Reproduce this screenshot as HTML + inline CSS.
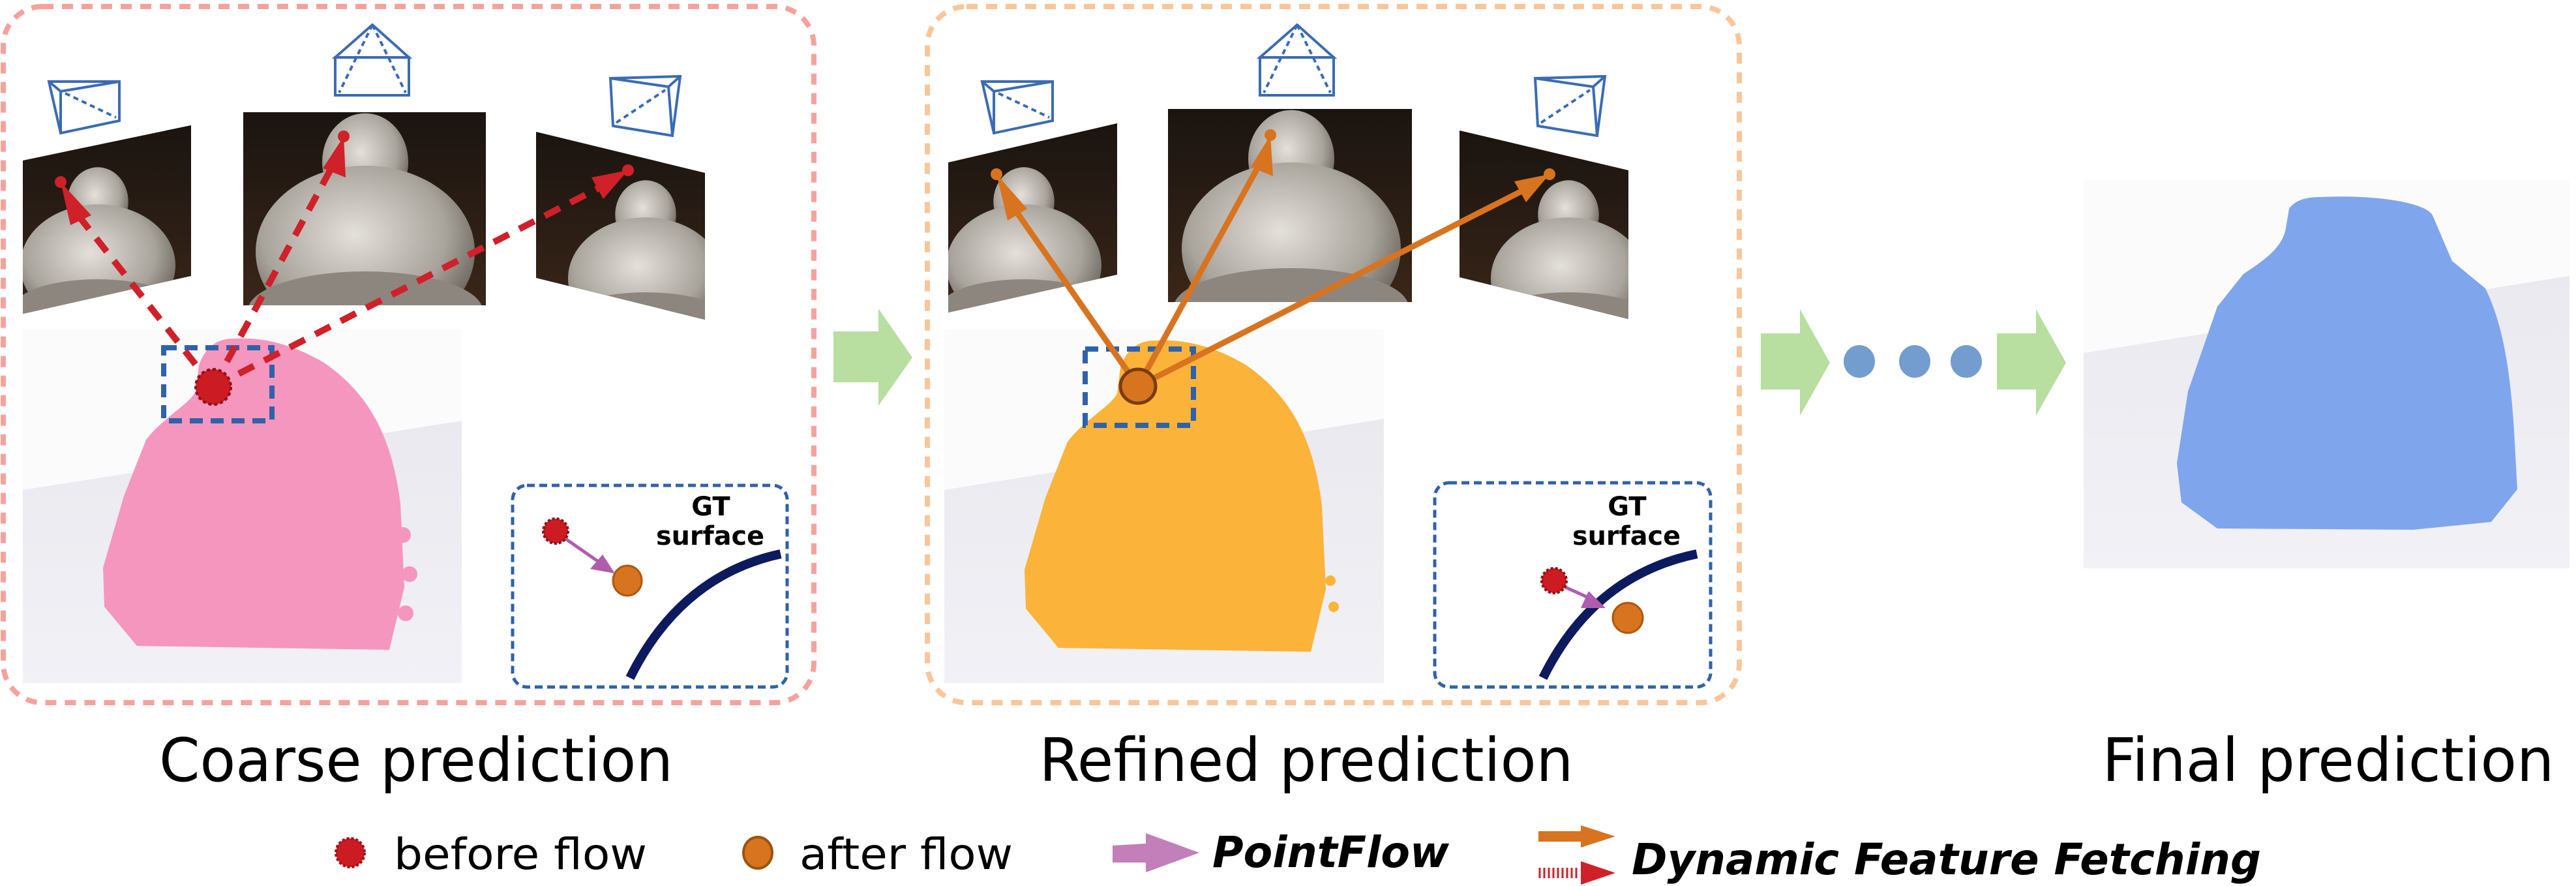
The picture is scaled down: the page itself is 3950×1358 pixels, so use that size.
<!DOCTYPE html>
<html><head><meta charset="utf-8">
<style>
html,body{margin:0;padding:0;background:#fff;}
svg{display:block;}
text{font-family:"DejaVu Sans","Liberation Sans",sans-serif;}
</style></head>
<body>
<svg width="3950" height="1358" viewBox="0 0 3950 1358" xmlns="http://www.w3.org/2000/svg">
<defs>
  <linearGradient id="photo" x1="0" y1="0" x2="0" y2="1">
    <stop offset="0" stop-color="#1a1410"/><stop offset="1" stop-color="#3a2618"/>
  </linearGradient>
  <radialGradient id="stone" cx="0.45" cy="0.4" r="0.6">
    <stop offset="0" stop-color="#e4e0da"/><stop offset="0.7" stop-color="#a8a39b"/><stop offset="1" stop-color="#6d6760"/>
  </radialGradient>
  <linearGradient id="floor" x1="0" y1="0" x2="0" y2="1">
    <stop offset="0" stop-color="#e9e9ef"/><stop offset="1" stop-color="#f1f1f6"/>
  </linearGradient>
  <g id="buddha">
    <ellipse cx="0" cy="-60" rx="55" ry="62" fill="url(#stone)"/>
    <ellipse cx="0" cy="55" rx="140" ry="110" fill="url(#stone)"/>
    <ellipse cx="0" cy="130" rx="150" ry="50" fill="#8c867e"/>
  </g>
  <clipPath id="cL1"><polygon points="35,246 293,192 293,423 35,481"/></clipPath>
  <clipPath id="cR1"><polygon points="822,202 1081,265 1081,490 822,426"/></clipPath>
  <clipPath id="cM1"><rect x="373" y="172" width="372" height="296"/></clipPath>
  <clipPath id="cL2"><polygon points="1454,249 1713,189 1713,421 1454,479"/></clipPath>
  <clipPath id="cR2"><polygon points="2238,200 2497,261 2497,489 2238,425"/></clipPath>
  <clipPath id="cM2"><rect x="1791" y="167" width="374" height="296"/></clipPath>
</defs>

<!-- Panels -->
<rect x="5" y="10" width="1243" height="1067" rx="60" fill="none" stroke="#f6a29c" stroke-width="8" stroke-dasharray="17 13"/>
<rect x="1422" y="10" width="1245" height="1067" rx="60" fill="none" stroke="#fbc59a" stroke-width="8" stroke-dasharray="17 13"/>

<!-- Panel 1 photos -->
<polygon points="35,246 293,192 293,423 35,481" fill="url(#photo)"/>
<g clip-path="url(#cL1)"><use href="#buddha" transform="translate(150,360) scale(0.85)"/></g>
<rect x="373" y="172" width="372" height="296" fill="url(#photo)"/>
<g clip-path="url(#cM1)"><use href="#buddha" transform="translate(560,320) scale(1.2)"/></g>
<polygon points="822,202 1081,265 1081,490 822,426" fill="url(#photo)"/>
<g clip-path="url(#cR1)"><use href="#buddha" transform="translate(990,380) scale(0.85)"/></g>

<!-- Panel 2 photos -->
<polygon points="1454,249 1713,189 1713,421 1454,479" fill="url(#photo)"/>
<g clip-path="url(#cL2)"><use href="#buddha" transform="translate(1570,360) scale(0.85)"/></g>
<rect x="1791" y="167" width="374" height="296" fill="url(#photo)"/>
<g clip-path="url(#cM2)"><use href="#buddha" transform="translate(1980,315) scale(1.2)"/></g>
<polygon points="2238,200 2497,261 2497,489 2238,425" fill="url(#photo)"/>
<g clip-path="url(#cR2)"><use href="#buddha" transform="translate(2405,380) scale(0.85)"/></g>

<!-- Cameras -->
<g fill="none" stroke="#3a6cb4" stroke-width="4">
  <g id="camL">
    <polygon points="75,125 183,125 183,185 93,204"/>
    <polyline points="75,125 93,140 183,125"/>
    <line x1="93" y1="140" x2="93" y2="204"/>
    <line x1="100" y1="143" x2="178" y2="180" stroke-dasharray="8 6"/>
  </g>
  <g id="camM">
    <polygon points="514,88 571,38 627,88"/>
    <rect x="514" y="88" width="113" height="58"/>
    <line x1="571" y1="38" x2="520" y2="142" stroke-dasharray="8 6"/>
    <line x1="571" y1="38" x2="622" y2="142" stroke-dasharray="8 6"/>
  </g>
  <g id="camR">
    <polygon points="936,120 1043,117 1031,208 940,193"/>
    <polyline points="936,120 1025,133 1043,117"/>
    <line x1="1025" y1="133" x2="1031" y2="208"/>
    <line x1="945" y1="188" x2="1020" y2="138" stroke-dasharray="8 6"/>
  </g>
  <use href="#camL" transform="translate(1431,0)"/>
  <use href="#camM" transform="translate(1418,0)"/>
  <use href="#camR" transform="translate(1418,0)"/>
</g>

<!-- Renders bg -->
<rect x="35" y="505" width="673" height="542" fill="#fbfbfc"/>
<polygon points="35,751 708,645 708,1047 35,1047" fill="url(#floor)"/>
<rect x="1448" y="505" width="674" height="542" fill="#fbfbfc"/>
<polygon points="1448,751 2122,642 2122,1047 1448,1047" fill="url(#floor)"/>
<rect x="3195" y="275" width="745" height="596" fill="#fbfbfc"/>
<polygon points="3195,541 3940,423 3940,871 3195,871" fill="url(#floor)"/>

<!-- Blobs -->
<path id="blob" d="M357,519 C420,515 470,540 497,556 C560,600 600,660 614,772 L620,900 L597,996 L210,990 L160,930 L158,870 L190,760 L224,674 C250,640 290,620 300,600 L305,560 C315,530 335,519 357,519 Z" fill="#f596bf"/>
<circle cx="618" cy="820" r="12" fill="#f596bf"/><circle cx="628" cy="880" r="12" fill="#f596bf"/><circle cx="622" cy="940" r="12" fill="#f596bf"/>
<path d="M357,519 C420,515 470,540 497,556 C560,600 600,660 614,772 L620,900 L597,996 L210,990 L160,930 L158,870 L190,760 L224,674 C250,640 290,620 300,600 L305,560 C315,530 335,519 357,519 Z" fill="#fbb33a" transform="translate(1413,3)"/>
<circle cx="2040" cy="890" r="8" fill="#fbb33a"/><circle cx="2045" cy="930" r="8" fill="#fbb33a"/>
<path d="M3560,302 C3640,298 3720,310 3730,330 L3760,400 L3811,442 C3840,500 3850,580 3855,660 L3860,750 L3820,800 L3700,812 L3400,810 L3345,770 L3338,710 L3355,600 L3400,470 L3440,420 C3470,400 3500,380 3505,350 L3510,320 C3520,305 3540,302 3560,302 Z" fill="#7fa6ec"/>

<!-- Blue dashed boxes -->
<rect x="251" y="533" width="166" height="112" fill="none" stroke="#2f62a8" stroke-width="8" stroke-dasharray="20 12"/>
<rect x="1664" y="535" width="166" height="117" fill="none" stroke="#2f62a8" stroke-width="8" stroke-dasharray="20 12"/>

<!-- Red dashed lines panel 1 -->
<g stroke="#d0202a" stroke-width="10" stroke-dasharray="26 18" fill="none">
  <line x1="327" y1="593" x2="108" y2="315"/>
  <line x1="327" y1="593" x2="515" y2="245"/>
  <line x1="327" y1="593" x2="928" y2="283"/>
</g>
<g fill="#d0202a">
  <polygon points="93,279 140,330 108,345"/><circle cx="93" cy="279" r="9"/>
  <polygon points="527,209 530,272 495,258"/><circle cx="527" cy="209" r="9"/>
  <polygon points="963,261 925,305 907,272"/><circle cx="963" cy="261" r="9"/>
</g>
<circle cx="327" cy="593" r="27" fill="#cc1b22" stroke="#8e1015" stroke-width="4" stroke-dasharray="5 4"/>

<!-- Orange lines panel 2 -->
<g stroke="#d8731f" stroke-width="9" fill="none">
  <line x1="1745" y1="592" x2="1545" y2="305"/>
  <line x1="1745" y1="592" x2="1935" y2="245"/>
  <line x1="1745" y1="592" x2="2345" y2="287"/>
</g>
<g fill="#d8731f">
  <polygon points="1528,267 1575,320 1545,338"/><circle cx="1528" cy="267" r="9"/>
  <polygon points="1948,207 1952,270 1918,256"/><circle cx="1948" cy="207" r="9"/>
  <polygon points="2376,267 2340,310 2322,278"/><circle cx="2376" cy="267" r="9"/>
</g>
<ellipse cx="1745" cy="592" rx="27" ry="26" fill="#d8731f" stroke="#7a3c0a" stroke-width="5"/>

<!-- Insets -->
<rect x="786" y="744" width="421" height="309" rx="22" fill="#fff" stroke="#2f62a8" stroke-width="5" stroke-dasharray="12 7"/>
<text x="1090" y="790" font-size="40" font-weight="bold" text-anchor="middle">GT</text>
<text x="1089" y="835" font-size="40" font-weight="bold" text-anchor="middle" textLength="166" lengthAdjust="spacingAndGlyphs">surface</text>
<path d="M966,1039 C1020,930 1100,870 1197,849" fill="none" stroke="#0d1a5e" stroke-width="14"/>
<line x1="856" y1="818" x2="925" y2="866" stroke="#b05cae" stroke-width="5"/>
<polygon points="943,879 905,872 924,850" fill="#b05cae"/>
<circle cx="852" cy="814" r="19" fill="#cc1b22" stroke="#8e1015" stroke-width="4" stroke-dasharray="4 3"/>
<ellipse cx="962" cy="890" rx="22" ry="23" fill="#d8731f" stroke="#b0570e" stroke-width="3"/>

<rect x="2200" y="740" width="423" height="313" rx="22" fill="#fff" stroke="#2f62a8" stroke-width="5" stroke-dasharray="12 7"/>
<text x="2495" y="790" font-size="40" font-weight="bold" text-anchor="middle">GT</text>
<text x="2494" y="835" font-size="40" font-weight="bold" text-anchor="middle" textLength="166" lengthAdjust="spacingAndGlyphs">surface</text>
<path d="M2366,1039 C2420,930 2500,870 2602,849" fill="none" stroke="#0d1a5e" stroke-width="14"/>
<line x1="2387" y1="894" x2="2440" y2="918" stroke="#b05cae" stroke-width="5"/>
<polygon points="2462,932 2424,932 2436,906" fill="#b05cae"/>
<circle cx="2383" cy="890" r="19" fill="#cc1b22" stroke="#8e1015" stroke-width="4" stroke-dasharray="4 3"/>
<ellipse cx="2496" cy="947" rx="23" ry="23" fill="#d8731f" stroke="#b0570e" stroke-width="3"/>

<!-- Green arrows and dots -->
<g fill="#b8dea0">
  <polygon points="1278,508 1347,508 1347,473 1399,548 1347,622 1347,586 1278,586"/>
  <polygon points="2700,511 2760,511 2760,474 2806,556 2760,637 2760,597 2700,597"/>
  <polygon points="3062,511 3122,511 3122,474 3168,556 3122,637 3122,597 3062,597"/>
</g>
<g fill="#729dce">
  <ellipse cx="2851" cy="554" rx="24" ry="25"/>
  <ellipse cx="2936" cy="554" rx="24" ry="25"/>
  <ellipse cx="3015" cy="554" rx="24" ry="25"/>
</g>

<!-- Titles -->
<text x="638" y="1197" font-size="92" text-anchor="middle" textLength="788" lengthAdjust="spacingAndGlyphs">Coarse prediction</text>
<text x="2003" y="1197" font-size="92" text-anchor="middle" textLength="819" lengthAdjust="spacingAndGlyphs">Refined prediction</text>
<text x="3570" y="1197" font-size="92" text-anchor="middle" textLength="693" lengthAdjust="spacingAndGlyphs">Final prediction</text>

<!-- Legend -->
<circle cx="537" cy="1307" r="22" fill="#cc1b22" stroke="#a01218" stroke-width="4" stroke-dasharray="4 3"/>
<text x="604" y="1332" font-size="66" textLength="388" lengthAdjust="spacingAndGlyphs">before flow</text>
<ellipse cx="1162" cy="1307" rx="22" ry="24" fill="#d8731f" stroke="#9a5410" stroke-width="4"/>
<text x="1226" y="1332" font-size="66" textLength="327" lengthAdjust="spacingAndGlyphs">after flow</text>
<polygon points="1706,1296 1757,1293 1757,1277 1839,1307 1757,1337 1757,1322 1706,1322" fill="#c27fba"/>
<text x="1859" y="1329" font-size="66" font-weight="bold" font-style="italic" textLength="363" lengthAdjust="spacingAndGlyphs">PointFlow</text>
<polygon points="2359,1274 2424,1274 2424,1265 2477,1282 2424,1299 2424,1290 2359,1290" fill="#d8731f"/>
<g stroke="#d0202a" stroke-width="3">
  <line x1="2361" y1="1330" x2="2361" y2="1346"/><line x1="2368" y1="1330" x2="2368" y2="1346"/>
  <line x1="2375" y1="1330" x2="2375" y2="1346"/><line x1="2382" y1="1330" x2="2382" y2="1346"/>
  <line x1="2389" y1="1330" x2="2389" y2="1346"/><line x1="2396" y1="1330" x2="2396" y2="1346"/>
  <line x1="2403" y1="1330" x2="2403" y2="1346"/><line x1="2410" y1="1330" x2="2410" y2="1346"/>
  <line x1="2417" y1="1330" x2="2417" y2="1346"/>
</g>
<polygon points="2424,1320 2477,1338 2424,1356" fill="#d0202a"/>
<text x="2502" y="1340" font-size="66" font-weight="bold" font-style="italic" textLength="965" lengthAdjust="spacingAndGlyphs">Dynamic Feature Fetching</text>
</svg>
</body></html>
